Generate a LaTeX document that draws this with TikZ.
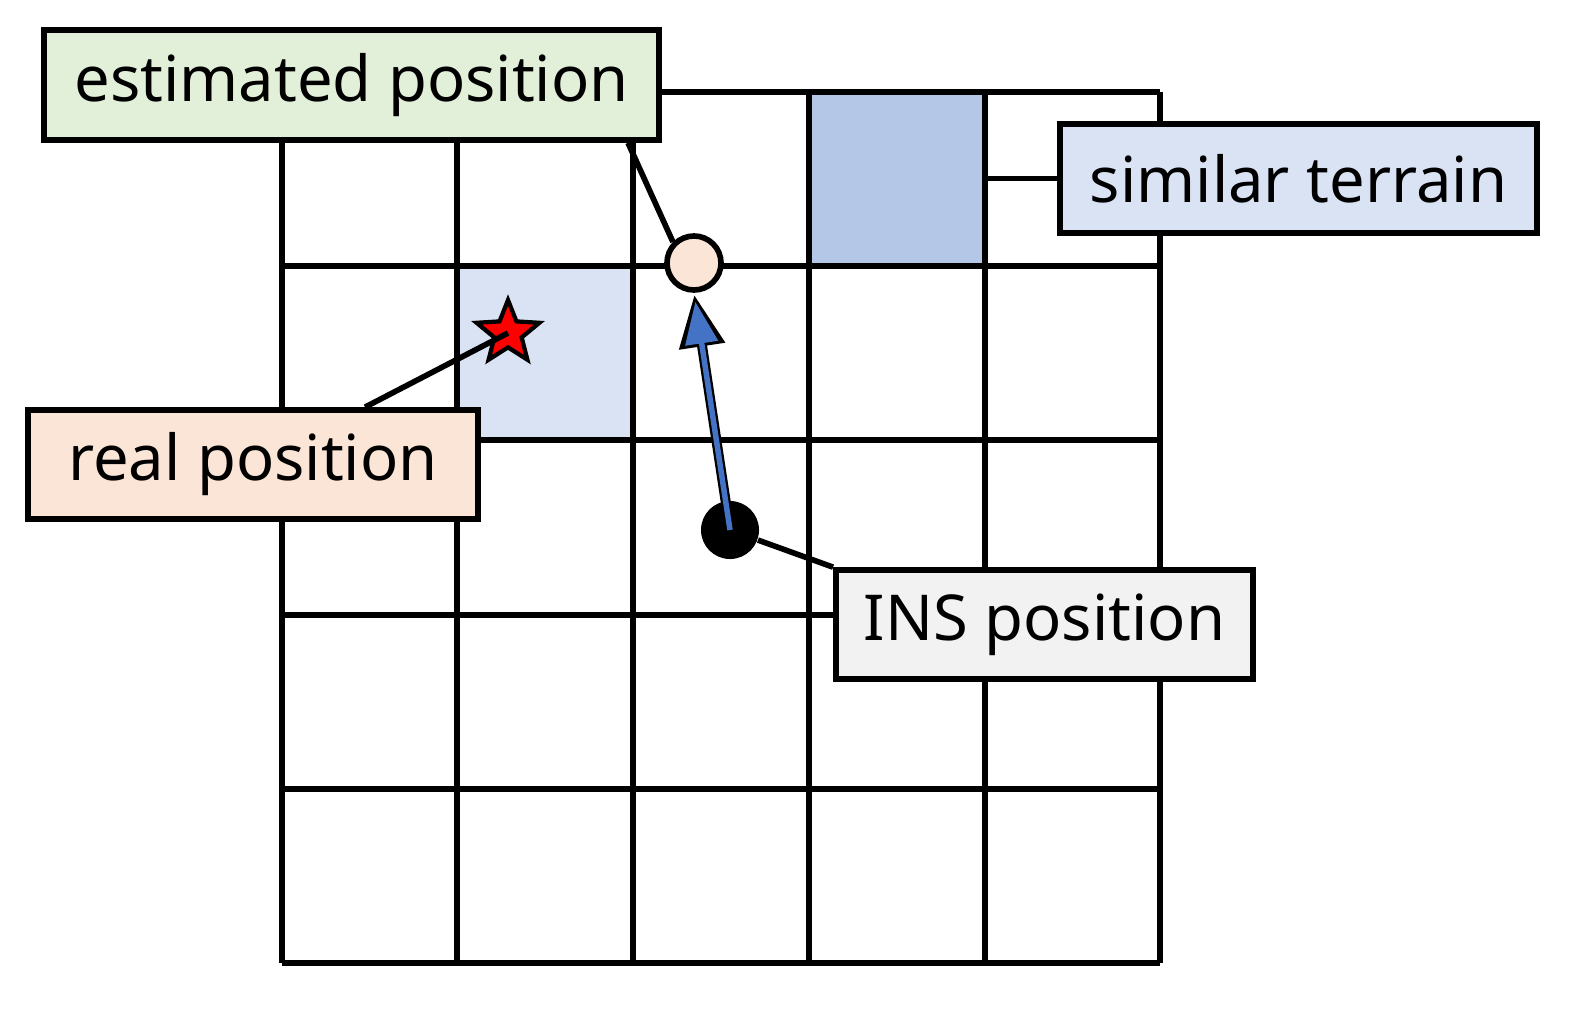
\documentclass[tikz,border=0pt]{standalone}
\usepackage{fontspec}
\setmainfont{Noto Sans}
\usetikzlibrary{shapes.geometric,arrows.meta,calc}
\definecolor{estfill}{HTML}{E2F0D9}
\definecolor{simfill}{HTML}{DAE3F3}
\definecolor{realfill}{HTML}{FBE5D6}
\definecolor{insfill}{HTML}{F2F2F2}
\definecolor{cellhi}{HTML}{B4C7E7}
\definecolor{arrowblue}{HTML}{4472C4}
\tikzset{
    label box/.style={draw, line width=1.6pt, inner sep=0pt, font=\fontsize{18}{21}\selectfont, text centered},
    link/.style={line width=1.6pt},
    gridline/.style={line width=1.6pt}
}

\begin{document}
\begin{tikzpicture}[x=0.01cm, y=-0.01cm]
\useasboundingbox (0,0) rectangle (1585,1012);

% highlighted cells
\fill[simfill] (457,266) rectangle (633,440);
\fill[cellhi] (809,92) rectangle (985,266);

% grid
\foreach \gx in {282,457,633,809,985,1160}
    \draw[gridline] (\gx,92) -- (\gx,963);
\foreach \gy in {92,266,440,615,789,963}
    \draw[gridline] (282,\gy) -- (1160,\gy);

% markers
\node[star, star points=5, star point ratio=2.3, fill=red, draw, line width=1.2pt, minimum size=0.66cm, inner sep=0pt] (real) at (508,333) {};
\node[circle, fill=realfill, draw, line width=1.6pt, minimum size=0.54cm, inner sep=0pt] (est) at (694,263) {};
\node[circle, fill=black, minimum size=0.58cm, inner sep=0pt] (ins) at (730,530) {};

% arrow
\draw[line width=0.1cm, -{Triangle[length=0.52cm, width=0.44cm]}, shorten >=0.02cm] (ins.center) -- (est.south);
\draw[arrowblue, line width=0.055cm, -{Triangle[length=0.42cm, width=0.32cm]}, shorten >=0.09cm] (ins.center) -- (est.south);

% labels
\node[label box, fill=estfill, minimum width=6.15cm, minimum height=1.1cm] (estlabel) at (351.5,85) {estimated position};
\node[label box, fill=simfill, minimum width=4.77cm, minimum height=1.09cm] (simlabel) at (1298.5,178.5) {similar terrain};
\node[label box, fill=realfill, minimum width=4.5cm, minimum height=1.09cm] (reallabel) at (253,464.5) {real position};
\node[label box, fill=insfill, minimum width=4.17cm, minimum height=1.09cm] (inslabel) at (1044.5,624.5) {INS position};

% connectors
\draw[link] (estlabel.south east) ++(-34,0) coordinate (e1) -- (est.north west);
\draw[link] (simlabel.west) -- (985,178.5) coordinate (s1);
\draw[link] ($(reallabel.north)+(112,0)$) -- (real.center);
\draw[link] (inslabel.north west) -- (ins);
\end{tikzpicture}
\end{document}
